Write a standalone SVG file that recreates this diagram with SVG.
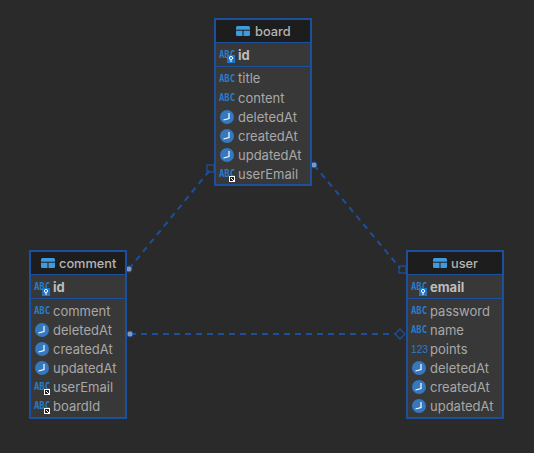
<svg xmlns="http://www.w3.org/2000/svg" width="534" height="453" viewBox="0 0 534 453">
<style>
.box{fill:#383838;stroke:none}
.head{fill:#1d1d1d}
.frame{fill:none;stroke:#1c4f9c;stroke-width:2}
.sep{stroke:#1c4f9c;stroke-width:1.2}
.t{font:13px "Inter","Liberation Sans",sans-serif;fill:#a8a8a8}
.pk{font:bold 13px "Inter","Liberation Sans",sans-serif;fill:#bdbdbd}
.h{font:500 12.8px "Inter","Liberation Sans",sans-serif;fill:#b4b4b4;text-anchor:start}
.abc{font:bold 10px "DejaVu Sans Mono",monospace;fill:#2a7cc8}
.num{font:11px "Liberation Sans",sans-serif;fill:#2a7cc8}
.conn{fill:none;stroke:#1c4f9c;stroke-width:2;stroke-dasharray:6 5}
.end{fill:none;stroke:#1c4f9c;stroke-width:1.3}
.dot{fill:#8298b8;stroke:#1c4f9c;stroke-width:1}
</style>
<defs>
<g id="tbl"><rect x="0" y="0" width="14" height="10" rx="1.5" fill="#3f9be0"/><path d="M0 4.2H14M7 4.2V10" stroke="#1d1d1d" stroke-width="1"/></g>
<g id="clock"><circle cx="0" cy="0" r="7" fill="#3478c0"/><path d="M2 -4V1.5L-3.5 3" fill="none" stroke="#fff" stroke-width="1.2"/></g>
<g id="key"><rect x="0" y="0" width="8" height="8" fill="#1f77cc"/><circle cx="4" cy="3" r="1.6" fill="none" stroke="#fff"/><path d="M4 4.5V7" stroke="#fff"/></g>
<g id="fk"><rect x="0" y="0" width="6" height="6" fill="#fff"/><rect x="1" y="1" width="4" height="4" fill="#222"/><path d="M2 2L5.5 5.5" stroke="#fff"/></g>
</defs>
<rect width="534" height="453" fill="#2a2a2a"/>
<g id="connectors">
<path class="conn" d="M129 269L210 170"/>
<path class="conn" d="M314 165L400 268"/>
<path class="conn" d="M130 334H395"/>
<rect class="end" x="207" y="165" width="7" height="7"/>
<rect class="end" x="399" y="266" width="7" height="7"/>
<path class="end" d="M395 334L400 329L405 334L400 339Z"/>
<circle class="dot" cx="129" cy="269" r="3"/>
<circle class="dot" cx="314" cy="165" r="3"/>
<circle class="dot" cx="130" cy="334" r="3"/>
</g>
<g id="board">
<rect class="box" x="215" y="19" width="96" height="166"/>
<rect class="head" x="215" y="19" width="96" height="23"/>
<line class="sep" x1="215" y1="42.5" x2="311" y2="42.5"/><line class="sep" x1="215" y1="66.5" x2="311" y2="66.5"/>
<rect class="frame" x="215" y="19" width="96" height="166"/>
<use href="#tbl" x="236" y="26"/><text class="h" x="255" y="36">board</text>
<text class="abc" x="219" y="58" textLength="16" lengthAdjust="spacingAndGlyphs">ABC</text><use href="#key" x="227" y="55"/><text class="pk" x="238" y="60">id</text>
<text class="abc" x="219" y="82" textLength="16" lengthAdjust="spacingAndGlyphs">ABC</text><text class="t" x="238" y="83">title</text>
<text class="abc" x="219" y="101" textLength="16" lengthAdjust="spacingAndGlyphs">ABC</text><text class="t" x="238" y="103">content</text>
<use href="#clock" x="227" y="117"/><text class="t" x="238" y="122">deletedAt</text>
<use href="#clock" x="227" y="136"/><text class="t" x="238" y="141">createdAt</text>
<use href="#clock" x="227" y="155"/><text class="t" x="238" y="160">updatedAt</text>
<text class="abc" x="219" y="177" textLength="16" lengthAdjust="spacingAndGlyphs">ABC</text><use href="#fk" x="229" y="176"/><text class="t" x="238" y="179">userEmail</text>
</g>
<g id="comment">
<rect class="box" x="30" y="251" width="96" height="167"/>
<rect class="head" x="30" y="251" width="96" height="23"/>
<line class="sep" x1="30" y1="274.5" x2="126" y2="274.5"/><line class="sep" x1="30" y1="298.5" x2="126" y2="298.5"/>
<rect class="frame" x="30" y="251" width="96" height="167"/>
<use href="#tbl" x="41" y="258"/><text class="h" x="59" y="268">comment</text>
<text class="abc" x="34" y="290" textLength="16" lengthAdjust="spacingAndGlyphs">ABC</text><use href="#key" x="42" y="288"/><text class="pk" x="53" y="292">id</text>
<text class="abc" x="34" y="314" textLength="16" lengthAdjust="spacingAndGlyphs">ABC</text><text class="t" x="53" y="316">comment</text>
<use href="#clock" x="42" y="330"/><text class="t" x="53" y="335">deletedAt</text>
<use href="#clock" x="42" y="349"/><text class="t" x="53" y="354">createdAt</text>
<use href="#clock" x="42" y="368"/><text class="t" x="53" y="373">updatedAt</text>
<text class="abc" x="34" y="390" textLength="16" lengthAdjust="spacingAndGlyphs">ABC</text><use href="#fk" x="44" y="389"/><text class="t" x="53" y="392">userEmail</text>
<text class="abc" x="34" y="409" textLength="16" lengthAdjust="spacingAndGlyphs">ABC</text><use href="#fk" x="44" y="408"/><text class="t" x="53" y="411">boardId</text>
</g>
<g id="user">
<rect class="box" x="407" y="251" width="96" height="167"/>
<rect class="head" x="407" y="251" width="96" height="23"/>
<line class="sep" x1="407" y1="274.5" x2="503" y2="274.5"/><line class="sep" x1="407" y1="298.5" x2="503" y2="298.5"/>
<rect class="frame" x="407" y="251" width="96" height="167"/>
<use href="#tbl" x="433" y="258"/><text class="h" x="451" y="268">user</text>
<text class="abc" x="411" y="290" textLength="16" lengthAdjust="spacingAndGlyphs">ABC</text><use href="#key" x="419" y="288"/><text class="pk" x="430" y="292">email</text>
<text class="abc" x="411" y="314" textLength="16" lengthAdjust="spacingAndGlyphs">ABC</text><text class="t" x="430" y="316">password</text>
<text class="abc" x="411" y="333" textLength="16" lengthAdjust="spacingAndGlyphs">ABC</text><text class="t" x="430" y="335">name</text>
<text class="num" x="411" y="353" textLength="17" lengthAdjust="spacingAndGlyphs">123</text><text class="t" x="430" y="354">points</text>
<use href="#clock" x="419" y="368"/><text class="t" x="430" y="373">deletedAt</text>
<use href="#clock" x="419" y="387"/><text class="t" x="430" y="392">createdAt</text>
<use href="#clock" x="419" y="406"/><text class="t" x="430" y="411">updatedAt</text>
</g>
</svg>
